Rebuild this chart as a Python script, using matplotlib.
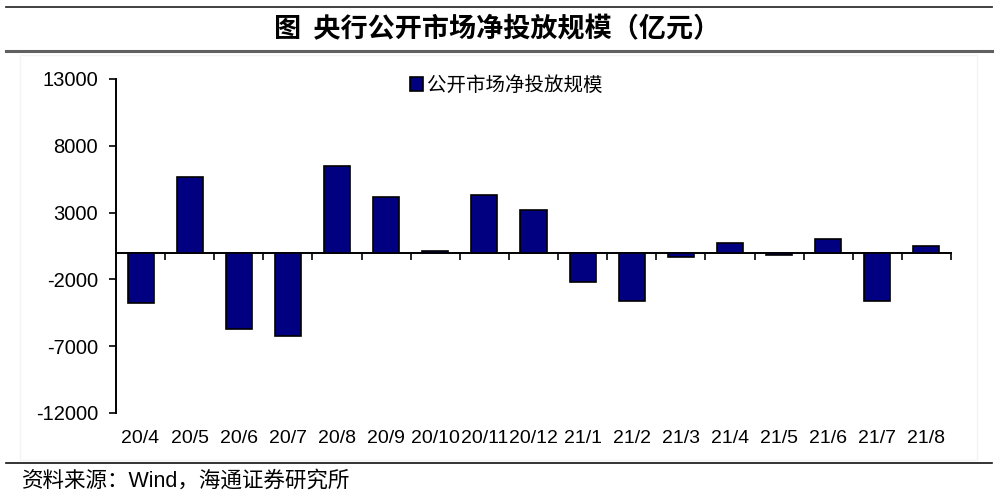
import matplotlib
matplotlib.use('Agg')
import matplotlib.pyplot as plt
from matplotlib.lines import Line2D
from matplotlib.patches import Rectangle

plt.rcParams['font.family'] = ['Liberation Sans', 'Noto Sans CJK SC', 'DejaVu Sans']

# 数据
months = ['20/4', '20/5', '20/6', '20/7', '20/8', '20/9', '20/10', '20/11', '20/12',
          '21/1', '21/2', '21/3', '21/4', '21/5', '21/6', '21/7', '21/8']
net_inject = [-3800, 5700, -5700, -6200, 6500, 4200, 120, 4300, 3200,
              -2200, -3600, -300, 750, -150, 1000, -3650, 500]
series_name = '公开市场净投放规模'
title = '图  央行公开市场净投放规模（亿元）'
source = '资料来源：Wind，海通证券研究所'
y_lim = (-12000, 13000)
y_ticks = [-12000, -7000, -2000, 3000, 8000, 13000]

W, H = 1002, 496
fig = plt.figure(figsize=(W / 100, H / 100), dpi=100)

# 外框和分隔线
fig.add_artist(Rectangle((20 / W, 1 - 460 / H), 957 / W, 405 / H, transform=fig.transFigure,
                         fill=False, edgecolor='#f4f4f4', linewidth=1))
fig.add_artist(Line2D([6 / W, 992 / W], [1 - 6.7 / H] * 2, transform=fig.transFigure,
                      color='#333333', linewidth=1.3))
fig.add_artist(Line2D([6 / W, 992 / W], [1 - 50.7 / H] * 2, transform=fig.transFigure,
                      color='#606060', linewidth=2.2))
fig.add_artist(Line2D([6 / W, 992 / W], [1 - 463.3 / H] * 2, transform=fig.transFigure,
                      color='#111111', linewidth=1.2))

fig.text(0.496, 1 - 29 / H, title, ha='center', va='center', fontsize=19.5,
         fontweight='bold', family=['Noto Sans CJK SC'])
fig.text(22 / W, 1 - 481 / H, source, ha='left', va='center', fontsize=15.5,
         family=['Liberation Sans', 'Noto Sans CJK SC'])

ax = fig.add_axes([116 / W, 1 - 413 / H, (951 - 116) / W, (413 - 79) / H])
x = list(range(len(months)))
ax.bar(x, net_inject, width=0.53, color='#000080', edgecolor='black', linewidth=1.2,
       label=series_name, zorder=3)

ax.set_xlim(-0.5, len(months) - 0.5)
ax.set_ylim(*y_lim)
ax.set_yticks(y_ticks)
ax.set_yticklabels([str(v) for v in y_ticks], fontsize=14.5)
ax.tick_params(axis='y', direction='out', length=5, width=1.2, pad=8)
ax.set_xticks(x)
ax.set_xticklabels(months, fontsize=14)
ax.tick_params(axis='x', length=0, pad=12)

for s in ['top', 'right', 'bottom']:
    ax.spines[s].set_visible(False)
ax.spines['left'].set_linewidth(1.4)

# 零轴与刻度
zero_loc = -y_lim[0] / (y_lim[1] - y_lim[0])
sec = ax.secondary_xaxis(zero_loc)
sec.set_xticks([i + 0.5 for i in x])
sec.set_xticklabels([])
sec.tick_params(direction='out', length=5, width=1.2)
sec.spines['bottom'].set_linewidth(1.4)

leg = ax.legend(loc='center left', bbox_to_anchor=(400 / W, 1 - 85 / H),
                bbox_transform=fig.transFigure, frameon=False,
                handlelength=0.7, handleheight=0.7, handletextpad=0.2,
                borderpad=0, prop={'family': ['Noto Sans CJK SC'], 'size': 14})

fig.savefig('out.png', dpi=100)
